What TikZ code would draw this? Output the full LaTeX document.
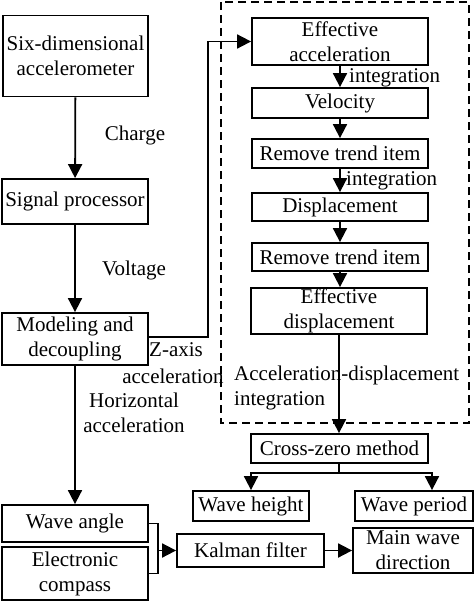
\documentclass[tikz,border=0pt]{standalone}
\usepackage{fontspec}
\setmainfont{Liberation Serif}
\usetikzlibrary{arrows.meta}
\begin{document}
\begin{tikzpicture}[x=1pt,y=-1pt,
  box/.style={draw,line width=1.8pt,inner sep=0pt,align=center,font=\fontsize{21}{25}\selectfont},
  lbl/.style={inner sep=0pt,font=\fontsize{21}{25}\selectfont},
  conn/.style={line width=1.8pt},
  arr/.style={line width=1.8pt,-{Triangle[length=14pt,width=14pt]}}]
\useasboundingbox (0,0) rectangle (474,602);
\draw[line width=1.8pt,dash pattern=on 8pt off 5pt] (221,2) rectangle (469,423);
\node[box,minimum width=145pt,minimum height=81pt] (six) at (75.5,56) {Six-dimensional\\accelerometer};
\node[box,minimum width=146pt,minimum height=45pt] (sig) at (75,201.5) {Signal processor};
\node[box,minimum width=146pt,minimum height=52pt] (mod) at (75,339) {Modeling and\\decoupling};
\node[box,minimum width=176pt,minimum height=47pt] (ea) at (340,41.5) {Effective\\acceleration};
\node[box,minimum width=176pt,minimum height=30pt] (vel) at (340,103) {Velocity};
\node[box,minimum width=176pt,minimum height=29pt] (rt1) at (340,153.5) {Remove trend item};
\node[box,minimum width=176pt,minimum height=28pt] (dis) at (340,207) {Displacement};
\node[box,minimum width=176pt,minimum height=28pt] (rt2) at (340,257) {Remove trend item};
\node[box,minimum width=176pt,minimum height=46pt] (ed) at (339,311) {Effective\\displacement};
\node[box,minimum width=177pt,minimum height=29pt] (cz) at (339.5,448.5) {Cross-zero method};
\node[box,minimum width=116pt,minimum height=30pt] (wh) at (251,506) {Wave height};
\node[box,minimum width=118pt,minimum height=30pt] (wp) at (414,506) {Wave period};
\node[box,minimum width=120pt,minimum height=45pt] (mw) at (413,550.5) {Main wave\\direction};
\node[box,minimum width=147pt,minimum height=33pt] (kf) at (250.5,550.5) {Kalman filter};
\node[box,minimum width=146pt,minimum height=37pt] (wa) at (75,523.5) {Wave angle};
\node[box,minimum width=146pt,minimum height=53pt] (ec) at (75,573.5) {Electronic\\compass};
\node[lbl] (lc) at (135,135) {Charge};
\node[lbl] (lv) at (134,270) {Voltage};
\node[lbl,anchor=west] (lz) at (149,350) {Z-axis};
\node[lbl] (lza) at (173,376) {acceleration};
\node[lbl,align=center] (lh) at (134,412.5) {Horizontal\\acceleration};
\node[lbl,align=left,anchor=west] (ladi) at (234,388) {Acceleration-displacement\\integration};
\node[lbl,anchor=west] (li1) at (349,78) {integration};
\node[lbl,anchor=west] (li2) at (346,181) {integration};
\coordinate (zc) at (208,337);
\coordinate (br) at (339,473);
\coordinate (bk) at (158,550.5);
\draw[arr] (six) -- (sig);
\draw[arr] (sig) -- (mod);
\draw[arr] (mod) -- (wa);
\draw[arr] (mod.east |- zc) -- (zc) |- (ea.west);
\draw[arr] (ea) -- (vel);
\draw[arr] (vel) -- (rt1);
\draw[arr] (rt1) -- (dis);
\draw[arr] (dis) -- (rt2);
\draw[arr] (rt2) -- (ed.north -| rt2);
\draw[arr] (ed) -- (cz.north -| ed);
\draw[conn] (cz.south -| br) -- (br);
\draw[arr] (br) -| (wh.north);
\draw[arr] (br) -| ([xshift=18pt]wp.north);
\draw[conn] (wa.east) -| (bk) |- (ec.east);
\draw[arr] (bk) -- (kf.west);
\draw[arr] (kf) -- (mw);
\end{tikzpicture}
\end{document}
